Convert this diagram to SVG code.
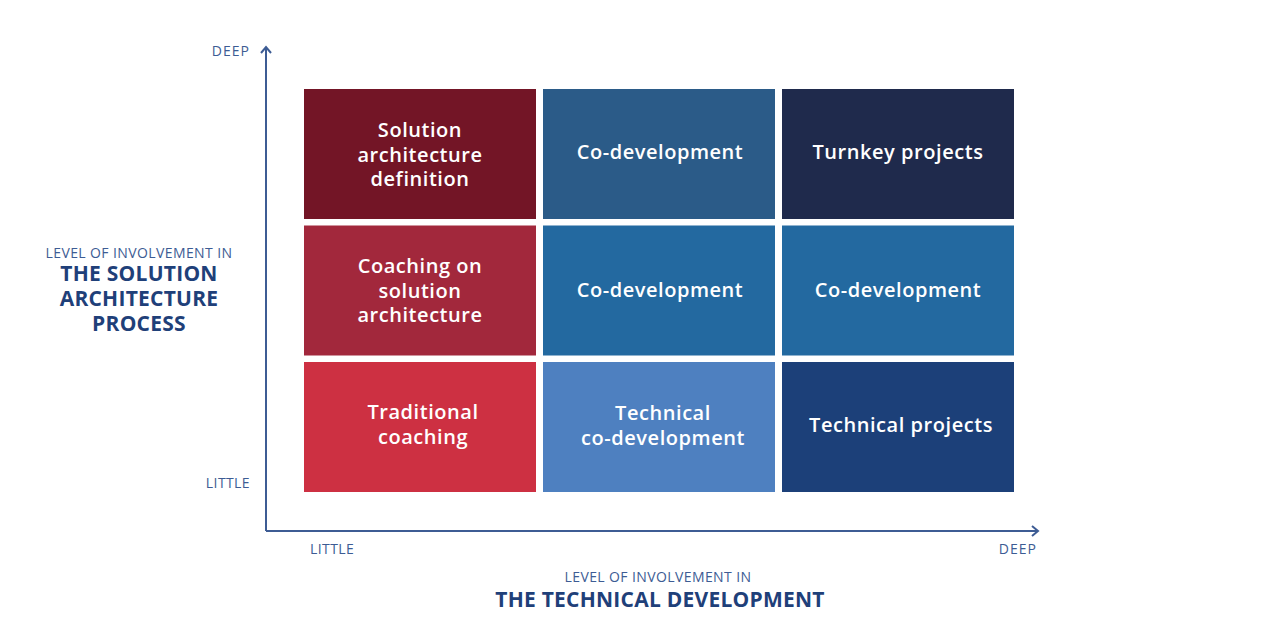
<svg xmlns="http://www.w3.org/2000/svg" width="1280" height="630" viewBox="0 0 1280 630">
<style>
.cell text{font-family:"Open Sans","Liberation Sans",sans-serif;font-weight:600;font-size:20px;letter-spacing:0.55px;fill:#ffffff;text-anchor:middle}
.small{font-family:"Open Sans","Liberation Sans",sans-serif;font-size:14px;letter-spacing:0.4px;fill:#3d5c94}
.big{font-family:"Open Sans","Liberation Sans",sans-serif;font-size:21px;font-weight:700;letter-spacing:0.25px;fill:#1f4079;text-anchor:middle}
.axis{stroke:#3d5c94;stroke-width:2;fill:none}
</style>
<rect width="1280" height="630" fill="#ffffff"/>
<g id="connectors">
<path class="axis" d="M266 531 V47 M261 53 L266 47 L271 53"/>
<path class="axis" d="M266 531 H1038 M1032 526 L1038 531 L1032 536"/>
</g>
<g id="axis-labels">
<text class="small" x="250" y="56" text-anchor="end" style="letter-spacing:1px">DEEP</text>
<text class="small" x="250" y="488" text-anchor="end">LITTLE</text>
<text class="small" x="310" y="554">LITTLE</text>
<text class="small" x="1037" y="554" text-anchor="end" style="letter-spacing:1px">DEEP</text>
<text class="small" x="139" y="258" text-anchor="middle">LEVEL OF INVOLVEMENT IN</text>
<text class="big" x="139" y="281">THE SOLUTION</text>
<text class="big" x="139" y="306">ARCHITECTURE</text>
<text class="big" x="139" y="331">PROCESS</text>
<text class="small" x="658" y="582" text-anchor="middle">LEVEL OF INVOLVEMENT IN</text>
<text class="big" x="660" y="607">THE TECHNICAL DEVELOPMENT</text>
</g>
<g id="cell-solution-architecture-definition" class="cell">
<rect x="304" y="89" width="232" height="130" fill="#731526"/>
<text x="420" y="137">Solution</text>
<text x="420" y="162">architecture</text>
<text x="420" y="186">definition</text>
</g>
<g id="cell-co-development-top" class="cell">
<rect x="543" y="89" width="232" height="130" fill="#2b5b88"/>
<text x="660" y="159">Co-development</text>
</g>
<g id="cell-turnkey-projects" class="cell">
<rect x="782" y="89" width="232" height="130" fill="#1f2a4c"/>
<text x="898" y="159">Turnkey projects</text>
</g>
<g id="cell-coaching-on-solution-architecture" class="cell">
<rect x="304" y="225.5" width="232" height="130" fill="#a2283c"/>
<text x="420" y="273">Coaching on</text>
<text x="420" y="298">solution</text>
<text x="420" y="322">architecture</text>
</g>
<g id="cell-co-development-middle" class="cell">
<rect x="543" y="225.5" width="232" height="130" fill="#2369a0"/>
<text x="660" y="297">Co-development</text>
</g>
<g id="cell-co-development-right" class="cell">
<rect x="782" y="225.5" width="232" height="130" fill="#2369a0"/>
<text x="898" y="297">Co-development</text>
</g>
<g id="cell-traditional-coaching" class="cell">
<rect x="304" y="362" width="232" height="130" fill="#cd3042"/>
<text x="423" y="419">Traditional</text>
<text x="423" y="444">coaching</text>
</g>
<g id="cell-technical-co-development" class="cell">
<rect x="543" y="362" width="232" height="130" fill="#4e80c0"/>
<text x="663" y="420">Technical</text>
<text x="663" y="445">co-development</text>
</g>
<g id="cell-technical-projects" class="cell">
<rect x="782" y="362" width="232" height="130" fill="#1c4079"/>
<text x="901" y="432">Technical projects</text>
</g>
</svg>
